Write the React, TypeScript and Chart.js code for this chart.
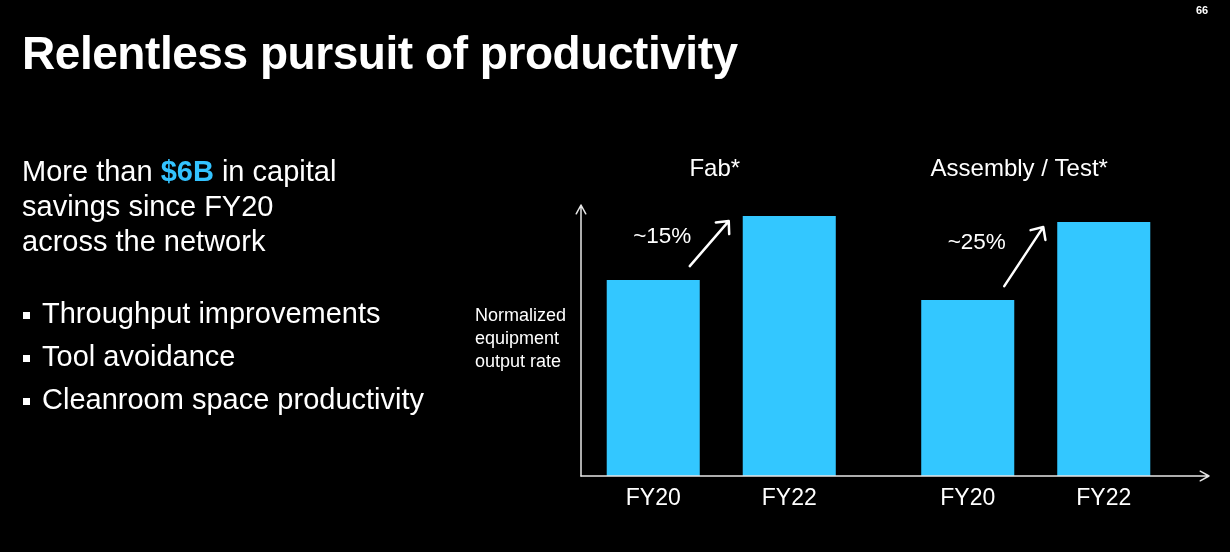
import React, { useEffect, useRef } from "react";
import { Chart, registerables } from "chart.js";

Chart.register(...registerables);

const groups = ["Fab*", "Assembly / Test*"];
const years = ["FY20", "FY22"];
const fy20Values = [72.3, 64.9];
const fy22Values = [95.9, 93.7];
const growthLabels = ["~15%", "~25%"];
const yMax = 100;

const titleText = "Relentless pursuit of productivity";
const bulletItems = ["Throughput improvements", "Tool avoidance", "Cleanroom space productivity"];
const yAxisLabel = ["Normalized", "equipment", "output rate"];
const pageNumber = "66";

const FONT = '"Liberation Sans", Arial, Helvetica, sans-serif';
const BAR_COLOR = "#33C7FF";
const AXIS_COLOR = "#E6E6E6";

function drawArrow(ctx: CanvasRenderingContext2D, x1: number, y1: number, x2: number, y2: number, head: number, spread: number) {
  ctx.beginPath();
  ctx.moveTo(x1, y1);
  ctx.lineTo(x2, y2);
  const ang = Math.atan2(y1 - y2, x1 - x2);
  ctx.moveTo(x2 + head * Math.cos(ang + spread), y2 + head * Math.sin(ang + spread));
  ctx.lineTo(x2, y2);
  ctx.lineTo(x2 + head * Math.cos(ang - spread), y2 + head * Math.sin(ang - spread));
  ctx.stroke();
}

const decorPlugin = {
  id: "decor",
  afterDatasetsDraw(chart: any) {
    const { ctx, chartArea, scales } = chart;
    const xs = scales.x;
    const m0 = chart.getDatasetMeta(0);
    const m1 = chart.getDatasetMeta(1);
    ctx.save();
    // axes
    ctx.strokeStyle = AXIS_COLOR;
    ctx.lineWidth = 1.5;
    ctx.lineCap = "round";
    ctx.lineJoin = "round";
    const ax = chartArea.left + 17;
    const ay = chartArea.bottom;
    drawArrow(ctx, ax, ay, ax, chartArea.top, 10, 0.5);
    drawArrow(ctx, ax, ay, chartArea.right + 16, ay, 10, 0.5);

    ctx.fillStyle = "#FFFFFF";
    ctx.textBaseline = "alphabetic";
    ctx.textAlign = "center";
    const groupOffsets = [-6.5, -16.5];
    for (let i = 0; i < groups.length; i++) {
      const b20 = m0.data[i];
      const b22 = m1.data[i];
      // group label
      ctx.font = `24px ${FONT}`;
      ctx.fillText(groups[i], xs.getPixelForValue(i) + groupOffsets[i], chartArea.top - 29);
      // year labels
      ctx.font = `23px ${FONT}`;
      ctx.fillText(years[0], b20.x, chartArea.bottom + 29);
      ctx.fillText(years[1], b22.x, chartArea.bottom + 29);
      // growth label
      ctx.font = `22.5px ${FONT}`;
      ctx.fillText(growthLabels[i], (b20.x + b22.x) / 2 - 59, b22.y + 27);
      // growth arrow
      ctx.strokeStyle = "#FFFFFF";
      ctx.lineWidth = 2.5;
      drawArrow(ctx, b20.x + b20.width / 2 - 10, b20.y - 14, b22.x - b22.width / 2 - 14, b22.y + 5, 13, 0.75);
    }
    ctx.restore();
  },
};

export default function App() {
  const canvasRef = useRef<HTMLCanvasElement | null>(null);

  useEffect(() => {
    document.body.style.margin = "0";
    document.body.style.background = "#000";
    const canvas = canvasRef.current;
    if (!canvas) return;
    const chart = new Chart(canvas, {
      type: "bar",
      data: {
        labels: groups,
        datasets: [
          { label: years[0], data: fy20Values, backgroundColor: BAR_COLOR, borderWidth: 0 },
          { label: years[1], data: fy22Values, backgroundColor: BAR_COLOR, borderWidth: 0 },
        ],
      },
      options: {
        responsive: false,
        animation: false,
        devicePixelRatio: 1,
        layout: { padding: { left: 564, right: 37, top: 205, bottom: 76 } },
        datasets: { bar: { categoryPercentage: 0.865, barPercentage: 0.684 } },
        scales: {
          x: { display: false },
          y: { display: false, min: 0, max: yMax },
        },
        plugins: { legend: { display: false }, tooltip: { enabled: false } },
      },
      plugins: [decorPlugin],
    });
    return () => chart.destroy();
  }, []);

  const abs = (o: React.CSSProperties): React.CSSProperties => ({ position: "absolute", margin: 0, whiteSpace: "nowrap", ...o });

  return (
    <div style={{ position: "fixed", left: 0, top: 0, width: 1230, height: 552, background: "#000", color: "#fff", fontFamily: FONT, overflow: "hidden" }}>
      <canvas ref={canvasRef} width={1230} height={552} style={{ position: "absolute", left: 0, top: 0, width: 1230, height: 552 }} />
      <div style={abs({ left: 1196, top: 4, fontSize: 11, lineHeight: "13px", fontWeight: "bold" })}>{pageNumber}</div>
      <div style={abs({ left: 22, top: 30, fontSize: 46, lineHeight: "46px", fontWeight: "bold", letterSpacing: "-0.45px" })}>{titleText}</div>
      <div style={abs({ left: 22, top: 153.5, fontSize: 29, lineHeight: "35px" })}>
        <div>
          More than <span style={{ color: "#33C3FF", fontWeight: "bold" }}>$6B</span> in capital
        </div>
        <div>savings since FY20</div>
        <div>across the network</div>
      </div>
      <div style={abs({ left: 23, top: 291.5, fontSize: 29, lineHeight: "43px" })}>
        {bulletItems.map((t) => (
          <div key={t} style={{ position: "relative", paddingLeft: 19 }}>
            <span style={{ position: "absolute", left: 0, top: 20, width: 7, height: 7, background: "#fff" }} />
            {t}
          </div>
        ))}
      </div>
      <div style={abs({ left: 475, top: 304, fontSize: 18, lineHeight: "23px" })}>
        {yAxisLabel.map((t) => (
          <div key={t}>{t}</div>
        ))}
      </div>
    </div>
  );
}
